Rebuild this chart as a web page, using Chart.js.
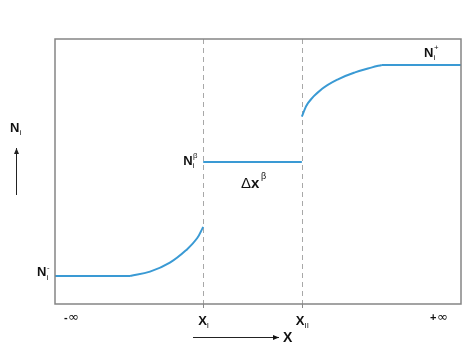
<!DOCTYPE html>
<html>
<head>
<meta charset="utf-8">
<script src="https://cdn.jsdelivr.net/npm/chart.js@4"></script>
<style>
  html, body { margin: 0; padding: 0; background: #fff; }
  #wrap { width: 474px; height: 351px; }
</style>
</head>
<body>
<div id="wrap"><canvas id="c"></canvas></div>
<script>
// positions des interfaces (en unités de l'axe x, 0..100)
const xI = 36.5;
const xII = 60.8;

// segments de la courbe N_i(x)
const flatLeftX = [0, 18.5];
const flatLeftY = [10.6, 10.6];
const curveLeftX = [18.5, 23.4, 28.3, 32.5, 35.0, 36.5];
const curveLeftY = [10.6, 12.2, 15.6, 20.6, 24.8, 29.1];
const midX = [36.5, 60.8];
const midY = [53.6, 53.6];
const curveRightX = [60.8, 62.3, 65.8, 69.7, 73.9, 78.1, 80.5];
const curveRightY = [70.7, 75.8, 81.2, 84.8, 87.4, 89.3, 90.2];
const flatRightX = [80.5, 100];
const flatRightY = [90.2, 90.2];

const lineColor = '#3a9ad4';
const toPts = (xs, ys) => xs.map((x, i) => ({ x: x, y: ys[i] }));

function seg(xs, ys, tension) {
  return {
    data: toPts(xs, ys),
    borderColor: lineColor,
    borderWidth: 2,
    pointRadius: 0,
    tension: tension,
    fill: false
  };
}

// texte avec indice / exposant
function label(ctx, x, y, main, sub, sup, size) {
  ctx.font = 'bold ' + size + 'px "Liberation Sans", Arial, sans-serif';
  ctx.textBaseline = 'middle';
  ctx.textAlign = 'left';
  const w = ctx.measureText(main).width;
  ctx.fillText(main, x, y);
  ctx.font = (size * 0.6) + 'px "Liberation Sans", Arial, sans-serif';
  if (sub) ctx.fillText(sub, x + w, y + size * 0.35);
  if (sup) ctx.fillText(sup, x + w + 0.5, y - size * 0.4);
}

function arrow(ctx, x1, y1, x2, y2) {
  ctx.beginPath();
  ctx.moveTo(x1, y1);
  ctx.lineTo(x2, y2);
  ctx.stroke();
  const a = Math.atan2(y2 - y1, x2 - x1);
  ctx.beginPath();
  ctx.moveTo(x2, y2);
  ctx.lineTo(x2 - 6 * Math.cos(a) + 2.5 * Math.sin(a), y2 - 6 * Math.sin(a) - 2.5 * Math.cos(a));
  ctx.lineTo(x2 - 6 * Math.cos(a) - 2.5 * Math.sin(a), y2 - 6 * Math.sin(a) + 2.5 * Math.cos(a));
  ctx.closePath();
  ctx.fill();
}

const decor = {
  id: 'decor',
  beforeDatasetsDraw(chart) {
    const { ctx, chartArea: a, scales } = chart;
    ctx.save();
    // lignes pointillées aux interfaces
    ctx.strokeStyle = '#a8a8a8';
    ctx.lineWidth = 1;
    ctx.setLineDash([5, 4]);
    [xI, xII].forEach(v => {
      const px = Math.round(scales.x.getPixelForValue(v)) + 0.5;
      ctx.beginPath();
      ctx.moveTo(px, a.top);
      ctx.lineTo(px, a.bottom);
      ctx.stroke();
    });
    ctx.setLineDash([]);
    // petits ticks sur l'axe du bas
    ctx.strokeStyle = '#888';
    [xI, xII].forEach(v => {
      const px = Math.round(scales.x.getPixelForValue(v)) + 0.5;
      ctx.beginPath();
      ctx.moveTo(px, a.bottom);
      ctx.lineTo(px, a.bottom + 4);
      ctx.stroke();
    });
    ctx.restore();
  },
  afterDraw(chart) {
    const { ctx, chartArea: a, scales } = chart;
    ctx.save();
    // cadre
    ctx.strokeStyle = '#858585';
    ctx.lineWidth = 1.5;
    ctx.strokeRect(a.left, a.top, a.right - a.left, a.bottom - a.top);

    ctx.fillStyle = '#111';
    const px = v => scales.x.getPixelForValue(v);
    const py = v => scales.y.getPixelForValue(v);

    label(ctx, 37, py(flatLeftY[0]) - 3, 'N', 'i', '-', 13);
    label(ctx, px(xI) - 20, py(midY[0]) - 1, 'N', 'i', 'β', 13);
    label(ctx, 424, 53, 'N', 'i', '+', 13);

    // Δx^β
    ctx.font = '15px "Liberation Sans", Arial, sans-serif';
    ctx.textBaseline = 'middle';
    ctx.fillText('Δ', 241, 184);
    ctx.font = 'bold 15px "Liberation Sans", Arial, sans-serif';
    ctx.fillText('x', 251, 184);
    ctx.font = '9px "Liberation Sans", Arial, sans-serif';
    ctx.fillText('β', 261, 177);

    // axe y : N_i et flèche
    label(ctx, 10, 128, 'N', 'i', '', 13);
    ctx.strokeStyle = '#222';
    ctx.fillStyle = '#222';
    ctx.lineWidth = 1;
    arrow(ctx, 16.5, 195, 16.5, 148);

    // étiquettes du bas
    ctx.fillStyle = '#111';
    ctx.font = 'bold 11px "Liberation Sans", Arial, sans-serif';
    ctx.textBaseline = 'middle';
    ctx.fillText('-', 64, 318);
    ctx.font = '13px "DejaVu Sans", sans-serif';
    ctx.fillText('∞', 68, 318);
    ctx.font = 'bold 11px "Liberation Sans", Arial, sans-serif';
    ctx.fillText('+', 430, 318);
    ctx.font = '13px "DejaVu Sans", sans-serif';
    ctx.fillText('∞', 437, 318);

    label(ctx, px(xI) - 5, 321, 'X', 'I', '', 13);
    label(ctx, px(xII) - 6, 321, 'X', 'II', '', 13);

    arrow(ctx, 193, 337.5, 279, 337.5);
    ctx.font = 'bold 14px "Liberation Sans", Arial, sans-serif';
    ctx.fillText('X', 283, 338);
    ctx.restore();
  }
};

new Chart(document.getElementById('c'), {
  type: 'line',
  data: {
    datasets: [
      seg(flatLeftX, flatLeftY, 0),
      seg(curveLeftX, curveLeftY, 0.4),
      seg(midX, midY, 0),
      seg(curveRightX, curveRightY, 0.4),
      seg(flatRightX, flatRightY, 0)
    ]
  },
  options: {
    responsive: true,
    maintainAspectRatio: false,
    animation: false,
    layout: { padding: { left: 55, top: 39, right: 13, bottom: 47 } },
    plugins: { legend: { display: false }, tooltip: { enabled: false } },
    scales: {
      x: { type: 'linear', min: 0, max: 100, display: false },
      y: { min: 0, max: 100, display: false }
    }
  },
  plugins: [decor]
});
</script>
</body>
</html>
